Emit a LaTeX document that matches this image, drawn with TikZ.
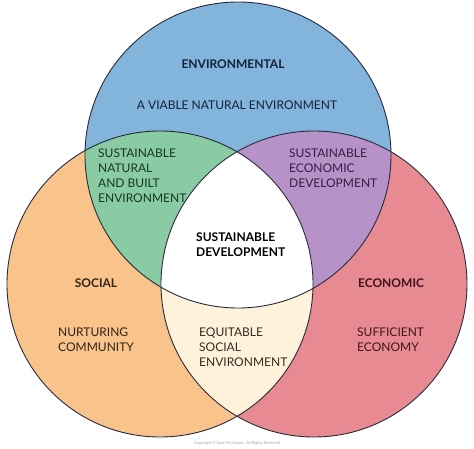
\documentclass[tikz,border=0pt]{standalone}
\usepackage{fontspec}
\setmainfont{Lato}
\definecolor{cblue}{HTML}{82B4DC}
\definecolor{cgreen}{HTML}{89CBA2}
\definecolor{cpurple}{HTML}{B692C9}
\definecolor{corange}{HTML}{F9C48C}
\definecolor{cred}{HTML}{E88A92}
\definecolor{ccream}{HTML}{FEF2DA}
\definecolor{cline}{HTML}{2A2A3A}
\definecolor{tblue}{HTML}{15223A}
\definecolor{tgreen}{HTML}{173626}
\definecolor{tpurple}{HTML}{33203F}
\definecolor{torange}{HTML}{33241A}
\definecolor{tred}{HTML}{3F151C}
\definecolor{tcream}{HTML}{332C22}
\begin{document}
\begin{tikzpicture}[x=1pt,y=-1pt,
  lbl/.style={inner sep=0pt,font=\fontsize{12}{15}\selectfont},
  ttl/.style={inner sep=0pt,font=\fontsize{12}{15}\selectfont\bfseries},
  ring/.style={draw=cline,line width=0.9pt}]
\useasboundingbox[fill=white] (0,0) rectangle (474,449);
\coordinate (E) at (238,155);
\coordinate (S) at (160,284);
\coordinate (C) at (314,284);
\def\R{153}
% base fills
\fill[corange] (S) circle[radius=\R];
\fill[cred] (C) circle[radius=\R];
\fill[cblue] (E) circle[radius=\R];
% pairwise
\begin{scope}
  \clip (E) circle[radius=\R];
  \fill[cgreen] (S) circle[radius=\R];
  \fill[cpurple] (C) circle[radius=\R];
\end{scope}
\begin{scope}
  \clip (S) circle[radius=\R];
  \fill[ccream] (C) circle[radius=\R];
  \clip (C) circle[radius=\R];
  \fill[white] (E) circle[radius=\R];
\end{scope}
% outlines
\draw[ring] (E) circle[radius=\R];
\draw[ring] (S) circle[radius=\R];
\draw[ring] (C) circle[radius=\R];
% texts
\node[ttl,text=tblue] (env) at (233,64) {ENVIRONMENTAL};
\node[lbl,text=tblue] (viable) at (237,105) {A VIABLE NATURAL ENVIRONMENT};
\node[lbl,text=tgreen,align=left,anchor=west] (snb) at (98,176) {SUSTAINABLE\\NATURAL\\AND BUILT\\ENVIRONMENT};
\node[lbl,text=tpurple,align=left,anchor=west] (sed) at (289,168) {SUSTAINABLE\\ECONOMIC\\DEVELOPMENT};
\node[ttl,text=black,align=left,anchor=west] (sd) at (196,244.5) {SUSTAINABLE\\DEVELOPMENT};
\node[ttl,text=torange] (soc) at (96,283) {SOCIAL};
\node[ttl,text=tred] (eco) at (391,283) {ECONOMIC};
\node[lbl,text=torange,align=left,anchor=west] (nc) at (58,339.5) {NURTURING\\COMMUNITY};
\node[lbl,text=tcream,align=left,anchor=west] (ese) at (199,347) {EQUITABLE\\SOCIAL\\ENVIRONMENT};
\node[lbl,text=tred,align=left,anchor=west] (se) at (357,339.5) {SUFFICIENT\\ECONOMY};
\node[inner sep=0pt,font=\fontsize{4}{5}\selectfont,text=black!35] (copy) at (237,443) {Copyright \textcopyright{} Save My Exams. All Rights Reserved};
\end{tikzpicture}
\end{document}
